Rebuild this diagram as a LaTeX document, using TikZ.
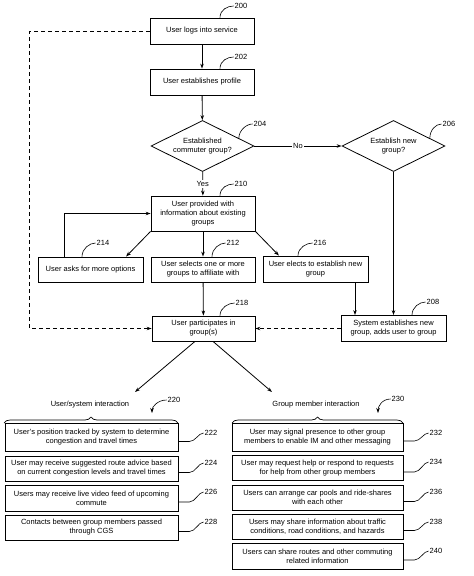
\documentclass[tikz,border=0pt]{standalone}
\usepackage{fontspec}
\setmainfont{Liberation Sans}
\usetikzlibrary{shapes.geometric,arrows.meta,decorations.pathreplacing,calc}
\begin{document}
\begin{tikzpicture}[x=1pt,y=-1pt,
  font=\fontsize{7.5}{9}\selectfont,
  box/.style={draw,line width=0.8pt,align=center,inner sep=1pt,minimum width=104pt,minimum height=26pt},
  wbox/.style={draw,line width=0.8pt,align=center,inner sep=1pt,minimum height=26pt},
  dia/.style={draw,diamond,aspect=2,inner sep=0pt,minimum width=103pt,minimum height=51pt,align=center,line width=0.8pt},
  arr/.style={-{Stealth[length=5pt,width=3.5pt]},line width=0.8pt},
  dsh/.style={dash pattern=on 4pt off 3pt},
  lead/.style={line width=0.6pt},
  num/.style={inner sep=1pt},
  lbl/.style={fill=white,inner sep=1.5pt}]
\useasboundingbox (0,0) rectangle (474,576);

% main flow
\node[box] (b200) at (202,31) {User logs into service};
\node[box] (b202) at (202,82) {User establishes profile};
\node[dia] (d204) at (202.5,146) {Established\\commuter group?};
\node[dia] (d206) at (393.5,146) {Establish new\\group?};
\node[box,minimum height=35pt] (b210) at (203,213.5) {User provided with\\information about existing\\groups};
\node[box,minimum width=105pt,minimum height=25pt] (b214) at (90.5,269.5) {User asks for more options};
\node[box,minimum height=25pt] (b212) at (203,269.5) {User selects one or more\\groups to affiliate with};
\node[box,minimum width=105pt] (b216) at (315.5,269) {User elects to establish new\\group};
\node[box,minimum width=103pt,minimum height=25pt] (b218) at (203.5,328.5) {User participates in\\group(s)};
\node[box,minimum width=105pt] (b208) at (393.5,328.5) {System establishes new\\group, adds user to group};

% numbers top part
\node[num] (n200) at (241,6) {200};
\node[num] (n202) at (241,57) {202};
\node[num] (n204) at (260,124) {204};
\node[num] (n206) at (449,124) {206};
\node[num] (n210) at (241,184) {210};
\node[num] (n212) at (233,243) {212};
\node[num] (n214) at (103,243) {214};
\node[num] (n216) at (320,243) {216};
\node[num] (n218) at (242,303) {218};
\node[num] (n208) at (433,302) {208};

\draw[lead] ([xshift=18pt]b200.north) .. controls +(0,-8) and +(-6,0) .. (n200.west);
\draw[lead] ([xshift=18pt]b202.north) .. controls +(0,-8) and +(-6,0) .. (n202.west);
\draw[lead] ($(d204.north)!0.7!(d204.east)$) .. controls +(0,-8) and +(-6,0) .. (n204.west);
\draw[lead] ($(d206.north)!0.7!(d206.east)$) .. controls +(0,-8) and +(-6,0) .. (n206.west);
\draw[lead] ([xshift=17pt]b210.north) .. controls +(0,-8) and +(-6,0) .. (n210.west);
\draw[lead] ([xshift=9pt]b212.north) .. controls +(0,-8) and +(-6,0) .. (n212.west);
\draw[lead] ([xshift=-8.5pt]b214.north) .. controls +(0,-8) and +(-6,0) .. (n214.west);
\draw[lead] ([xshift=-17.5pt]b216.north) .. controls +(0,-8) and +(-6,0) .. (n216.west);
\draw[lead] ([xshift=16.5pt]b218.north) .. controls +(0,-8) and +(-6,0) .. (n218.west);
\draw[lead] ([xshift=18.5pt]b208.north) .. controls +(0,-8) and +(-6,0) .. (n208.west);

% connectors
\draw[arr] (b200) -- (b202);
\draw[arr] (b202) -- (d204);
\draw[arr] (d204) -- node[lbl]{No} (d206);
\draw[arr] (d204) -- node[lbl]{Yes} (b210);
\draw[arr] (b210.south west) -- ([xshift=35.5pt]b214.north);
\draw[arr] (b210) -- (b212);
\draw[arr] (b210.south east) -- ([xshift=-36.5pt]b216.north);
\draw[arr] ([xshift=-26.5pt]b214.north) |- (b210.west);
\draw[arr] (b212) -- (b218);
\draw[arr] ([xshift=39.5pt]b216.south) -- ([xshift=39.5pt]b216.south |- b208.north);
\draw[arr] (d206) -- (b208);
\draw[arr,dsh] (b200.west) -- ++(-120,0) |- (b218.west);
\draw[arr,dsh] (b208.west) -- (b218.east);

% branches
\coordinate (g1) at (135,392);
\coordinate (g2) at (272,392);
\draw[arr] ([xshift=-8.5pt]b218.south) -- (g1);
\draw[arr] ([xshift=9.5pt]b218.south) -- (g2);

% group labels
\node (gl1) at (90,405) {User/system interaction};
\node (gl2) at (316,405) {Group member interaction};
\draw[line width=0.7pt,decorate,decoration={brace,amplitude=6pt}] (4,423) -- (178,423);
\draw[line width=0.7pt,decorate,decoration={brace,amplitude=6pt}] (232,423) -- (403,423);
\node[num] (n220) at (174,400) {220};
\node[num] (n230) at (398,399) {230};
\draw[arr,line width=0.6pt] (n220.west) .. controls +(-9,0) and +(0,-6) .. (152,413);
\draw[arr,line width=0.6pt] (n230.west) .. controls +(-9,0) and +(0,-6) .. (378,413);

% left group boxes
\node[wbox,minimum width=173pt,minimum height=28pt] (b222) at (91.5,437.5) {User's position tracked by system to determine\\congestion and travel times};
\node[wbox,minimum width=173pt,minimum height=25pt] (b224) at (91.5,468.5) {User may receive suggested route advice based\\on current congestion levels and travel times};
\node[wbox,minimum width=173pt,minimum height=26pt] (b226) at (91.5,498) {Users may receive live video feed of upcoming\\commute};
\node[wbox,minimum width=173pt,minimum height=25pt] (b228) at (91.5,527.5) {Contacts between group members passed\\through CGS};

% right group boxes
\node[wbox,minimum width=171pt,minimum height=28pt] (b232) at (317.5,437) {User may signal presence to other group\\members to enable IM and other messaging};
\node[wbox,minimum width=171pt,minimum height=25pt] (b234) at (317.5,468) {User may request help or respond to requests\\for help from other group members};
\node[wbox,minimum width=171pt,minimum height=25pt] (b236) at (317.5,497.5) {Users can arrange car pools and ride-shares\\with each other};
\node[wbox,minimum width=171pt,minimum height=25pt] (b238) at (317.5,526.5) {Users may share information about traffic\\conditions, road conditions, and hazards};
\node[wbox,minimum width=171pt,minimum height=26pt] (b240) at (317.5,556) {Users can share routes and other commuting\\related information};

% numbers bottom
\node[num] (n222) at (211,433) {222};
\node[num] (n224) at (211,463) {224};
\node[num] (n226) at (211,492) {226};
\node[num] (n228) at (211,522) {228};
\node[num] (n232) at (436,433) {232};
\node[num] (n234) at (436,462) {234};
\node[num] (n236) at (436,492) {236};
\node[num] (n238) at (436,522) {238};
\node[num] (n240) at (436,551) {240};

\foreach \b/\n in {b222/n222,b224/n224,b226/n226,b228/n228,b232/n232,b234/n234,b236/n236,b238/n238,b240/n240}{
  \draw[lead] ([yshift=-4pt]\b.east) -- ++(11,0) .. controls +(6,0) and +(-5,0) .. (\n.west);
}
\end{tikzpicture}
\end{document}
